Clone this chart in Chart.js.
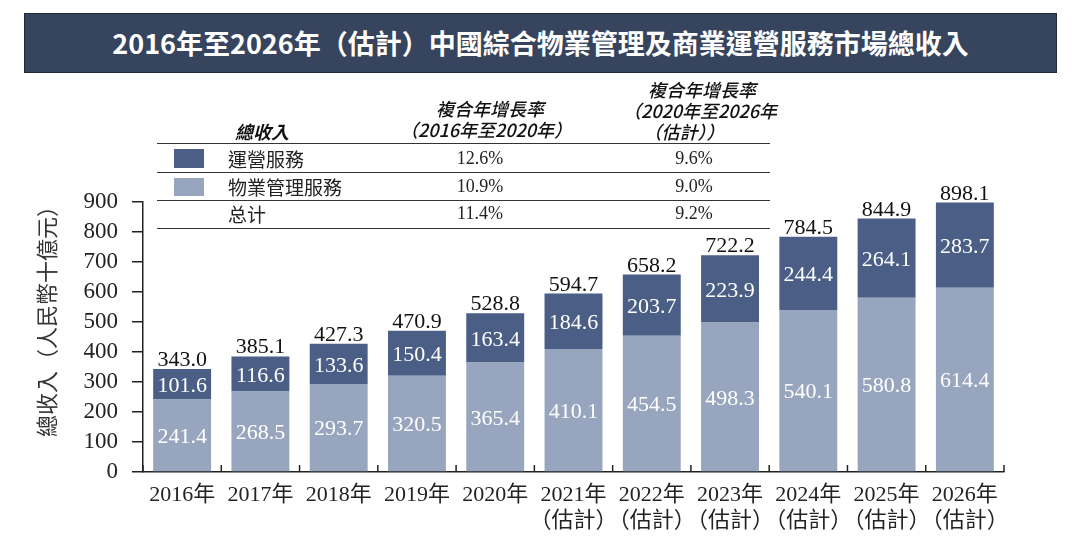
<!DOCTYPE html>
<html>
<head>
<meta charset="utf-8">
<script src="https://cdn.jsdelivr.net/npm/chart.js@4"></script>
<style>
  html,body{margin:0;padding:0;background:#fff;}
  #wrap{position:relative;width:1080px;height:543px;overflow:hidden;}
  #c{position:absolute;left:0;top:0;}
  .abs{position:absolute;white-space:nowrap;}
  #title{left:24px;top:13px;width:1033px;height:60px;background:#36445d;border:1px solid #1f2838;box-sizing:border-box;color:#fff;
    font:700 27px "Noto Sans CJK TC","Noto Sans",sans-serif;text-align:center;line-height:58px;letter-spacing:0px;}
  .hline{position:absolute;left:157px;width:613px;height:0;border-top:1.6px solid #333;}
  .sw{position:absolute;left:174px;width:30px;}
  .rowlab{font:400 19px "Noto Sans CJK TC",sans-serif;color:#222;transform:translateY(-50%);}
  .val{font:400 18px "Liberation Serif",serif;color:#222;transform:translate(-50%,-50%);}
  .hdr{font:italic 500 18px "Noto Sans CJK TC",sans-serif;color:#111;transform:translate(-50%,-50%);}
  #ytitle{left:45px;top:316px;transform:translate(-50%,-50%) rotate(-90deg);font:400 22px "Noto Sans CJK TC",sans-serif;color:#333;}
</style>
</head>
<body>
<div id="wrap">
  <canvas id="c" width="1080" height="543"></canvas>
  <div id="title" class="abs"></div>
  <div id="ytitle" class="abs"></div>
  <div id="table"></div>
</div>
<script>
// ---- data ----
const titleText = "2016年至2026年（估計）中國綜合物業管理及商業運營服務市場總收入";
const yAxisTitle = "總收入（人民幣十億元）";
const years = ["2016年","2017年","2018年","2019年","2020年","2021年","2022年","2023年","2024年","2025年","2026年"];
const estimated = [false,false,false,false,false,true,true,true,true,true,true];
const seriesNames = ["物業管理服務","運營服務"];
const propertyMgmt = [241.4,268.5,293.7,320.5,365.4,410.1,454.5,498.3,540.1,580.8,614.4];
const operations = [101.6,116.6,133.6,150.4,163.4,184.6,203.7,223.9,244.4,264.1,283.7];
const totals = [343.0,385.1,427.3,470.9,528.8,594.7,658.2,722.2,784.5,844.9,898.1];
const yTicks = {min:0, max:900, step:100};
// CAGR table
const tableHeader = "總收入";
const cagrHead1 = ["複合年增長率","（2016年至2020年）"];
const cagrHead2 = ["複合年增長率","（2020年至2026年","（估計））"];
const tableRows = ["運營服務","物業管理服務","总计"];
const cagr1 = ["12.6%","10.9%","11.4%"];
const cagr2 = ["9.6%","9.0%","9.2%"];

const darkColor = "#4a5e86";
const lightColor = "#97a6be";

document.getElementById('title').textContent = titleText;
document.getElementById('ytitle').textContent = yAxisTitle;

// ---- table (HTML) ----
(function(){
  const t = document.getElementById('table');
  const add = (html)=>{ t.insertAdjacentHTML('beforeend', html); };
  [143,172,200,228].forEach(y=>add(`<div class="hline" style="top:${y}px"></div>`));
  add(`<div class="sw" style="top:149px;height:19px;background:${darkColor}"></div>`);
  add(`<div class="sw" style="top:178px;height:18px;background:${lightColor}"></div>`);
  add(`<div class="abs hdr" style="left:262px;top:131px;font-weight:700;font-size:18px">${tableHeader}</div>`);
  add(`<div class="abs hdr" style="left:490px;top:108px">${cagrHead1[0]}</div>`);
  add(`<div class="abs hdr" style="left:486px;top:129px">${cagrHead1[1]}</div>`);
  add(`<div class="abs hdr" style="left:702px;top:89px">${cagrHead2[0]}</div>`);
  add(`<div class="abs hdr" style="left:700px;top:110px">${cagrHead2[1]}</div>`);
  add(`<div class="abs hdr" style="left:684px;top:131px">${cagrHead2[2]}</div>`);
  const rowY = [158,186,213];
  tableRows.forEach((r,i)=>{
    add(`<div class="abs rowlab" style="left:228px;top:${rowY[i]}px">${r}</div>`);
    add(`<div class="abs val" style="left:480px;top:${rowY[i]}px">${cagr1[i]}</div>`);
    add(`<div class="abs val" style="left:694px;top:${rowY[i]}px">${cagr2[i]}</div>`);
  });
})();

// ---- chart ----
const xLabels = years.map((y,i)=> estimated[i] ? [y,"（估計）"] : [y]);

const labelPlugin = {
  id:'valueLabels',
  afterDatasetsDraw(chart){
    const ctx = chart.ctx;
    ctx.save();
    ctx.font = '22px "Liberation Serif", serif';
    ctx.textAlign = 'center';
    ctx.textBaseline = 'middle';
    chart.data.datasets.forEach((ds,di)=>{
      const meta = chart.getDatasetMeta(di);
      meta.data.forEach((el,i)=>{
        const cy = (el.y + el.base)/2;
        ctx.fillStyle = '#ffffff';
        ctx.fillText(ds.data[i].toFixed(1), el.x, cy + 2);
      });
    });
    const top = chart.getDatasetMeta(1);
    ctx.fillStyle = '#111';
    ctx.textBaseline = 'alphabetic';
    top.data.forEach((el,i)=>{
      ctx.fillText(totals[i].toFixed(1), el.x, el.y - 3);
    });
    ctx.restore();
  }
};

// inward tick marks between categories on the x axis
const xTickPlugin = {
  id:'xInwardTicks',
  afterDraw(chart){
    const xs = chart.scales.x, ctx = chart.ctx, area = chart.chartArea;
    const n = chart.data.labels.length;
    ctx.save();
    ctx.strokeStyle = '#222';
    ctx.lineWidth = 1.5;
    for(let i=0;i<=n;i++){
      let x;
      if(i===0) x = area.left;
      else if(i===n) x = area.right;
      else x = (xs.getPixelForValue(i-1) + xs.getPixelForValue(i))/2;
      ctx.beginPath();
      ctx.moveTo(x, area.bottom);
      ctx.lineTo(x, area.bottom - 7);
      ctx.stroke();
    }
    ctx.restore();
  }
};

new Chart(document.getElementById('c'), {
  type:'bar',
  data:{
    labels:xLabels,
    datasets:[
      {label:seriesNames[0], data:propertyMgmt, backgroundColor:lightColor, borderWidth:0},
      {label:seriesNames[1], data:operations, backgroundColor:darkColor, borderWidth:0}
    ]
  },
  options:{
    responsive:false,
    animation:false,
    devicePixelRatio:1,
    layout:{padding:{left:0,right:76,top:202,bottom:0}},
    plugins:{legend:{display:false}, tooltip:{enabled:false}, title:{display:false}},
    datasets:{bar:{categoryPercentage:1.0, barPercentage:0.74}},
    scales:{
      x:{
        stacked:true,
        offset:true,
        afterFit(s){ s.height = 71; },
        grid:{display:true, drawOnChartArea:false, drawTicks:false, color:'#222', lineWidth:1.5},
        border:{display:true, color:'#222', width:1.5},
        ticks:{color:'#222', padding:10, maxRotation:0, autoSkip:false,
          font:{family:'"Liberation Serif","Noto Sans CJK TC",serif', size:22, lineHeight:1.2}}
      },
      y:{
        stacked:true,
        min:yTicks.min, max:yTicks.max,
        afterFit(s){ s.width = 143; },
        grid:{drawOnChartArea:false, drawTicks:true, tickLength:11, color:'#222', lineWidth:1.5},
        border:{display:true, color:'#222', width:1.5},
        ticks:{stepSize:yTicks.step, autoSkip:false, color:'#222', padding:14,
          font:{family:'"Liberation Serif",serif', size:23}}
      }
    }
  },
  plugins:[labelPlugin, xTickPlugin]
});
</script>
</body>
</html>
